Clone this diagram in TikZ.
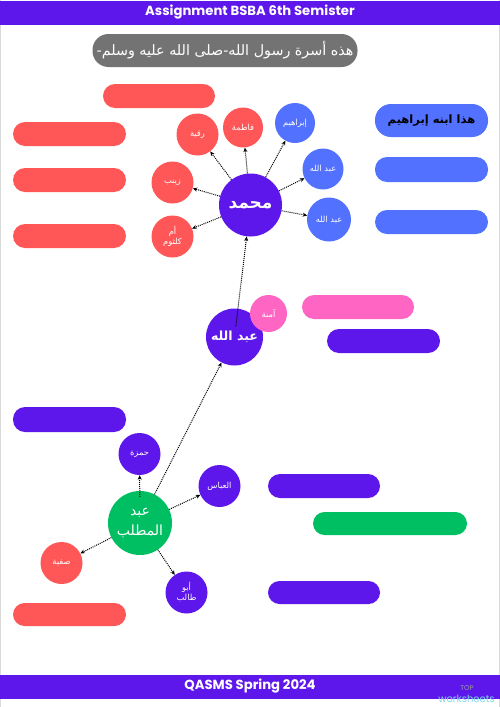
\documentclass[tikz,border=0pt]{standalone}
\usepackage{fontspec}
\setmainfont{Poppins}
\newfontfamily\ar[Script=Arabic]{DejaVu Sans}
\newfontfamily\pop{Poppins}
\TeXXeTstate=1
\usetikzlibrary{arrows.meta}
\definecolor{cpurple}{HTML}{5E17EB}
\definecolor{cred}{HTML}{FF5757}
\definecolor{cblue}{HTML}{5271FF}
\definecolor{cpink}{HTML}{FF66C4}
\definecolor{cgreen}{HTML}{00BF63}
\definecolor{cgray}{HTML}{737373}
\definecolor{cwm}{HTML}{7FD6EA}
\tikzset{
  bar/.style={fill=cpurple, draw=none, minimum width=500pt, minimum height=24pt, inner sep=0pt, text=white, font=\pop\bfseries\fontsize{13.2}{15}\selectfont},
  pill/.style={fill=#1, draw=none, rounded corners=12pt, minimum height=24pt, inner sep=0pt},
  bub/.style={circle, fill=#1, draw=none, inner sep=0pt, text=white, align=center, font=\ar\fontsize{8.3}{10}\selectfont},
  link/.style={densely dotted, line width=1pt, -{Stealth[length=4.5pt,width=4pt]}},
}
\begin{document}
\begin{tikzpicture}[x=1pt,y=-1pt]
\useasboundingbox (0,0) rectangle (500,707);
\draw[black!15, line width=1pt] (0.5,0) -- (0.5,707) (499.5,0) -- (499.5,707);
% bars
\node[bar] (topbar) at (250,12.5) {Assignment BSBA 6th Semister};
\node[bar] (botbar) at (250,686.5) {QASMS Spring 2024};
% title pill
\node[pill=cgray, minimum width=265pt, minimum height=33pt, rounded corners=16pt, text=white, font=\ar\fontsize{14.3}{16}\selectfont] (title) at (225,50.5) {\beginR هذه أسرة رسول الله-صلى الله عليه وسلم-\endR};
% pills
\node[pill=cred, minimum width=112pt] (r0) at (159,96) {};
\node[pill=cred, minimum width=113pt] (r1) at (69.5,134) {};
\node[pill=cred, minimum width=113pt] (r2) at (69.5,180) {};
\node[pill=cred, minimum width=113pt] (r3) at (69.5,236) {};
\node[pill=cblue, minimum width=113pt, minimum height=33pt, rounded corners=16pt, font=\ar\bfseries\fontsize{11.5}{13}\selectfont, text=black] (b1) at (431.5,120.5) {\beginR هذا ابنه إبراهيم\endR};
\node[pill=cblue, minimum width=113pt, minimum height=25pt] (b2) at (431.5,169.5) {};
\node[pill=cblue, minimum width=113pt, minimum height=24pt] (b3) at (431.5,222) {};
\node[pill=cpink, minimum width=112pt] (pk) at (358,307) {};
\node[pill=cpurple, minimum width=113pt] (pu1) at (383.5,341) {};
\node[pill=cpurple, minimum width=113pt, minimum height=25pt] (pu2) at (69.5,419.5) {};
\node[pill=cpurple, minimum width=112pt] (pu3) at (324,486) {};
\node[pill=cgreen, minimum width=154pt, minimum height=23pt, rounded corners=11.5pt] (gr) at (390,523.5) {};
\node[pill=cpurple, minimum width=112pt, minimum height=23pt, rounded corners=11.5pt] (pu4) at (324,592.5) {};
\node[pill=cred, minimum width=113pt, minimum height=23pt, rounded corners=11.5pt] (r4) at (69.5,614.5) {};
% circles
\node[bub=cpurple, minimum size=63pt, font=\ar\bfseries\fontsize{17}{19}\selectfont] (muh) at (250.5,205) {\beginR محمد\endR};
\node[bub=cred, minimum size=42pt] (ruq) at (197.5,134.5) {\beginR رقية\endR};
\node[bub=cred, minimum size=40pt] (fat) at (243,127.5) {\beginR فاطمة\endR};
\node[bub=cblue, minimum size=40pt] (ibr) at (295,123) {\beginR إبراهيم\endR};
\node[bub=cblue, minimum size=41pt] (ab1) at (323,169) {\beginR عبد الله\endR};
\node[bub=cblue, minimum size=44pt] (ab2) at (329,219.5) {\beginR عبد الله\endR};
\node[bub=cred, minimum size=42pt] (zay) at (172.5,182.5) {\beginR زينب\endR};
\node[bub=cred, minimum size=42pt] (umm) at (172.5,236.5) {\beginR أم\endR\\\beginR كلثوم\endR};
\node[bub=cpurple, minimum size=57pt, font=\ar\bfseries\fontsize{12.5}{15}\selectfont] (abd) at (234.5,337) {\beginR عبد الله\endR};
\node[bub=cpink, minimum size=37pt] (ami) at (268.5,313.5) {\beginR آمنة\endR};
\node[bub=cgreen, minimum size=64pt, font=\ar\fontsize{14}{20}\selectfont] (mut) at (140,523) {\beginR عبد\endR\\\beginR المطلب\endR};
\node[bub=cpurple, minimum size=42pt] (ham) at (139.5,454) {\beginR حمزة\endR};
\node[bub=cpurple, minimum size=42pt] (abb) at (219.5,486) {\beginR العباس\endR};
\node[bub=cred, minimum size=42pt] (saf) at (61.5,563) {\beginR صفية\endR};
\node[bub=cpurple, minimum size=42pt] (tal) at (186.5,592.5) {\beginR أبو\endR\\\beginR طالب\endR};
% links
\draw[link] (muh) -- (ruq);
\draw[link] (muh) -- (fat);
\draw[link] (muh) -- (ibr);
\draw[link] (muh) -- (ab1);
\draw[link] (muh) -- (ab2);
\draw[link] (muh) -- (zay);
\draw[link] (muh) -- (umm);
\draw[link, shorten <=-18pt] (abd) -- (muh);
\draw[link] (mut) -- (abd);
\draw[link, shorten <=-6pt] (mut) -- (ham);
\draw[link] (mut) -- (abb);
\draw[link] (mut) -- (saf);
\draw[link] (mut) -- (tal);
% watermark
\node[font=\pop\fontsize{7}{7}\selectfont, text=black!40, inner sep=0pt] (wm1) at (467,688) {TOP};
\node[font=\pop\fontsize{10}{10}\selectfont, text=cwm, inner sep=0pt] (wm2) at (466.5,699) {worksheets};
\end{tikzpicture}
\end{document}
